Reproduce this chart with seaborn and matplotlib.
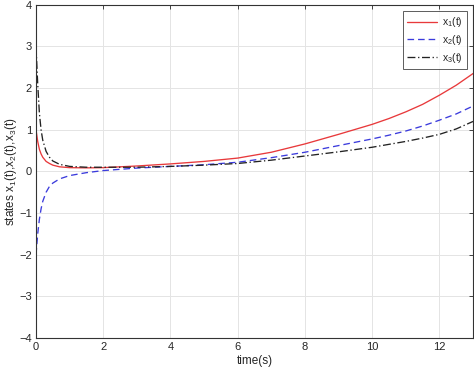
import matplotlib
matplotlib.use('Agg')
import matplotlib.pyplot as plt
import pandas as pd
import seaborn as sns

# Values
t = [0, 0.05, 0.1, 0.15, 0.2, 0.3, 0.4, 0.5, 0.7, 1.0, 1.5, 2, 3, 4, 5, 6,
     7, 8, 9, 10, 10.5, 11, 11.5, 12, 12.5, 13]
x1 = [1.0, 0.72, 0.53, 0.42, 0.34, 0.24, 0.19, 0.15, 0.11, 0.09, 0.085, 0.09,
      0.13, 0.18, 0.24, 0.32, 0.46, 0.66, 0.89, 1.13, 1.27, 1.43, 1.61, 1.83,
      2.07, 2.35]
x2 = [-2.0, -1.5, -1.15, -0.9, -0.72, -0.5, -0.36, -0.28, -0.18, -0.1, -0.03,
      0.02, 0.08, 0.12, 0.16, 0.22, 0.33, 0.46, 0.62, 0.78, 0.87, 0.97, 1.09,
      1.23, 1.38, 1.57]
x3 = [3.0, 2.1, 1.4, 1.0, 0.75, 0.48, 0.34, 0.25, 0.17, 0.12, 0.1, 0.1, 0.1,
      0.12, 0.15, 0.19, 0.27, 0.37, 0.47, 0.58, 0.65, 0.72, 0.8, 0.89, 1.02, 1.2]

labels = ['x$_1$(t)', 'x$_2$(t)', 'x$_3$(t)']
x_ticks = [0, 2, 4, 6, 8, 10, 12]
y_ticks = [-4, -3, -2, -1, 0, 1, 2, 3, 4]

sns.set_style('whitegrid')
plt.rcParams['font.family'] = ['Liberation Sans', 'DejaVu Sans']
plt.rcParams['mathtext.default'] = 'regular'
plt.rcParams['font.size'] = 8

fig = plt.figure(figsize=(4.74, 3.71), dpi=100)
ax = fig.add_axes([0.076, 0.089, 0.922, 0.898])

styles = [('#e8393b', '-'), ('#3b3bdc', (0, (5, 3))), ('#222222', (0, (6, 2, 1, 2)))]
for vals, lab, (col, ls) in zip([x1, x2, x3], labels, styles):
    df = pd.DataFrame({'t': t, 'v': vals})
    sns.lineplot(data=df, x='t', y='v', ax=ax, color=col, linestyle=ls,
                 linewidth=0.95, label=lab, sort=False)

ax.set_xlim(0, 13)
ax.set_ylim(-4, 4)
ax.set_xticks(x_ticks)
ax.set_yticks(y_ticks)
ax.set_xlabel('time(s)', fontsize=8.5, labelpad=2)
ax.set_ylabel('states x$_1$(t),x$_2$(t),x$_3$(t)', fontsize=8.5, labelpad=0)

ax.grid(True, color='#e4e4e4', linewidth=0.7)
for sp in ax.spines.values():
    sp.set_visible(True)
    sp.set_color('#333333')
    sp.set_linewidth(0.8)
ax.tick_params(direction='in', length=3, width=0.6, colors='#262626',
               top=True, right=True, labelsize=8, pad=3)

leg = ax.legend(loc='upper right', fontsize=7.5, handlelength=2.8,
                frameon=True, fancybox=False, borderaxespad=0.6,
                labelspacing=0.35, handletextpad=0.5)
leg.get_frame().set_edgecolor('#333333')
leg.get_frame().set_linewidth(0.7)

plt.savefig('out.png', dpi=100)
plt.close()
